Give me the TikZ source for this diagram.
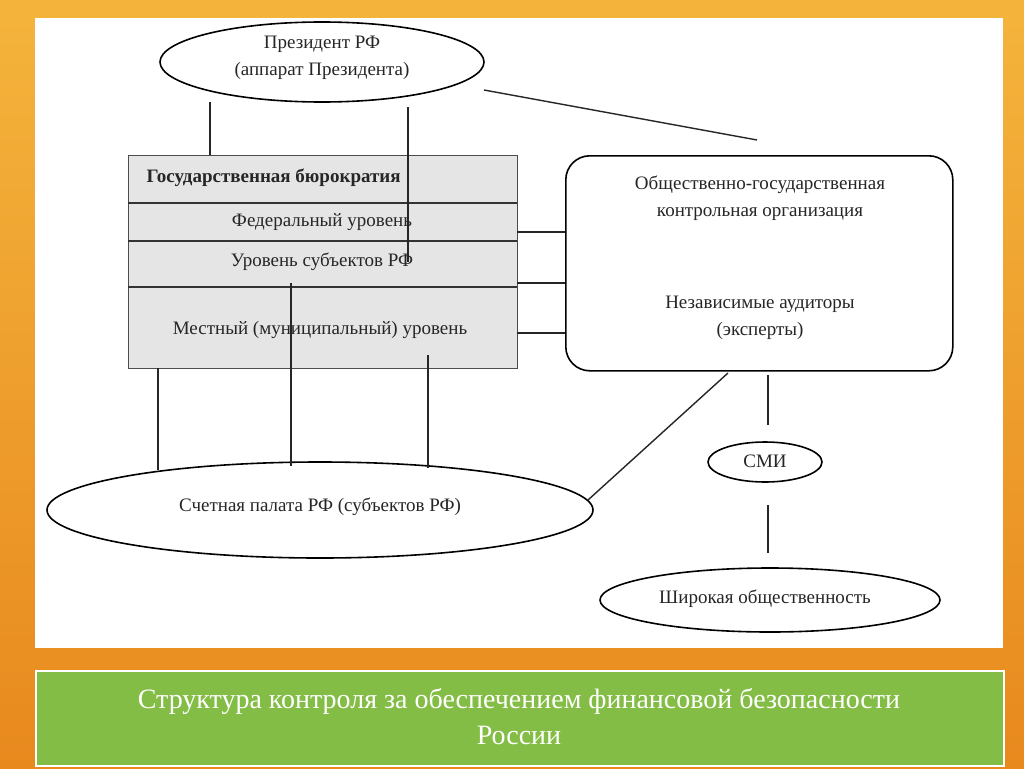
\documentclass[tikz,border=0pt]{standalone}
\usepackage{fontspec}
\setmainfont{Liberation Serif}
\usetikzlibrary{shapes.geometric}
\definecolor{orgA}{HTML}{F4B43C}
\definecolor{orgB}{HTML}{E8891E}
\definecolor{grn}{HTML}{84BD45}
\begin{document}
\begin{tikzpicture}[x=1pt,y=-1pt,
  ln/.style={draw=black!85,line width=1.4pt},
  el/.style={ellipse,draw=black,line width=1.6pt,fill=white,inner sep=0pt},
  tx/.style={font=\fontsize{19}{27}\selectfont,text=black!85}]
\useasboundingbox (0,0) rectangle (1024,768);
\shade[top color=orgA,bottom color=orgB] (0,0) rectangle (1024,768);
\fill[white] (35,18) rectangle (1003,648);
\node[draw=white,line width=1.5pt,fill=grn,minimum width=968pt,minimum height=95pt,anchor=north west,inner sep=0pt] (cap) at (35,670) {};
\node[text=white,align=center,font=\fontsize{28}{36}\selectfont] (capt) at (519,717) {Структура контроля за обеспечением финансовой безопасности\\России};
% table
\node[draw=black!70,fill=black!10,line width=1pt,minimum width=389pt,minimum height=213pt,anchor=north west,inner sep=0pt] (tab) at (128,155) {};
\draw[black!80,line width=1.8pt] (128,203) -- (517,203) (128,241) -- (517,241) (128,287) -- (517,287);
\node[tx,font=\bfseries\fontsize{19}{22}\selectfont,anchor=west] (h) at (143,178) {Государственная бюрократия};
\node[tx] (r1) at (322,222) {Федеральный уровень};
\node[tx] (r2) at (322,262) {Уровень субъектов РФ};
\node[tx] (r3) at (320,330) {Местный (муниципальный) уровень};
% president
\node[el,minimum width=324pt,minimum height=80pt] (pres) at (322,62) {};
\node[tx,align=center] (prest) at (322,58) {Президент РФ\\(аппарат Президента)};
\coordinate (p1) at (210,102); \coordinate (p1e) at (210,155);
\coordinate (p2) at (408,107); \coordinate (p2e) at (408,262);
\draw[ln] (p1) -- (p1e); \draw[ln] (p2) -- (p2e);
% org
\node[draw=black,line width=1.6pt,rounded corners=24pt,minimum width=387pt,minimum height=215pt,anchor=north west,inner sep=0pt] (org) at (565,155) {};
\node[tx,align=center] (o1) at (760,198) {Общественно-государственная\\контрольная организация};
\node[tx,align=center] (o2) at (760,318) {Независимые аудиторы\\(эксперты)};
\coordinate (a1) at (484,90); \coordinate (a2) at (757,140);
\draw[ln] (a1) -- (a2);
\foreach \y in {232,283,333} \draw[ln] (517,\y) -- (565,\y);
% schet
\node[el,minimum width=546pt,minimum height=96pt] (sch) at (320,510) {};
\node[tx] (scht) at (320,507) {Счетная палата РФ (субъектов РФ)};
\draw[ln] (158,368) -- (158,470);
\draw[ln] (291,283) -- (291,466);
\draw[ln] (428,355) -- (428,468);
\coordinate (s1) at (588,500); \coordinate (s2) at (728,373);
\draw[ln] (s1) -- (s2);
% smi
\node[el,minimum width=114pt,minimum height=40pt] (smi) at (765,462) {};
\node[tx] (smit) at (765,461) {СМИ};
\draw[ln] (768,375) -- (768,425);
\draw[ln] (768,505) -- (768,553);
\node[el,minimum width=340pt,minimum height=64pt] (shir) at (770,600) {};
\node[tx] (shirt) at (765,599) {Широкая общественность};
\end{tikzpicture}
\end{document}
